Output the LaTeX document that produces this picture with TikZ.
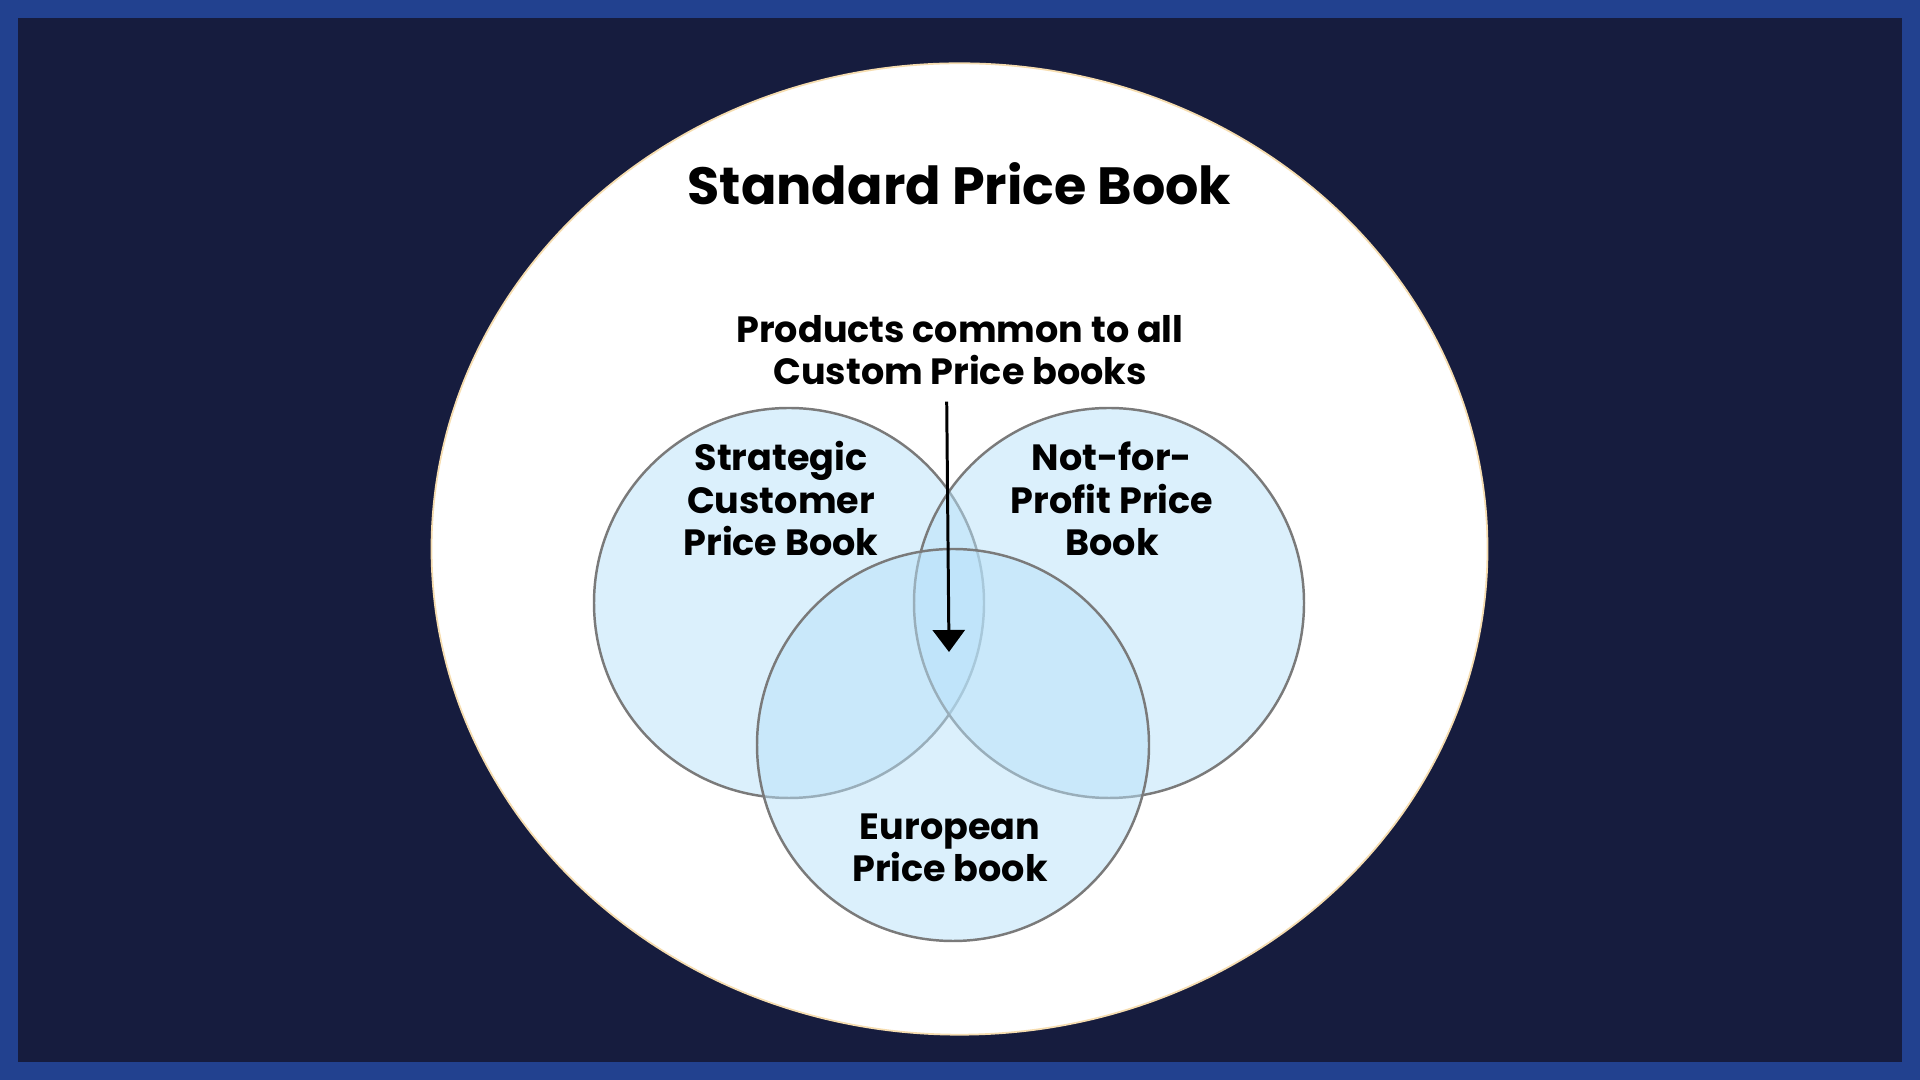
\documentclass[tikz,border=0pt]{standalone}
\usepackage{fontspec}
\setmainfont{Poppins}
\usetikzlibrary{arrows.meta}
\definecolor{frameblue}{HTML}{22418F}
\definecolor{slidebg}{HTML}{161C3E}
\definecolor{bookfill}{HTML}{B8E2FA}
\definecolor{bookline}{HTML}{7A7A7A}
\definecolor{rimgold}{HTML}{F6DDB0}

\begin{document}
\begin{tikzpicture}[
  book/.style={fill=bookfill, fill opacity=0.5, draw=bookline, draw opacity=1, line width=0.7pt},
  booklabel/.style={font=\fontsize{10.4}{12.2}\selectfont\bfseries, align=center, anchor=base},
  ]
  %frame of the slide
  \fill[frameblue] (0,0) rectangle (19.2,10.8);
  \fill[slidebg] (0.18,0.18) rectangle (19.02,10.62);
  \useasboundingbox (0,0) rectangle (19.2,10.8);
  %STANDARD BOOK
  \draw[rimgold, fill=white, line width=0.5pt] (9.595,5.31) ellipse [x radius=5.28, y radius=4.857];
  \node[font=\fontsize{14.9}{18}\selectfont\bfseries, anchor=base] (std) at (9.595,8.75) {Standard Price Book};
  %base = last line
  \node[booklabel] (common) at (9.6,6.95) {Products common to all\\Custom Price books};
  %custom books
  \path[book] (7.89,4.77) circle (1.95);
  \path[book] (11.09,4.77) circle (1.95);
  \path[book] (9.53,3.35) circle (1.96);
  \node[booklabel] (strat) at (7.81,5.24) {Strategic\\Customer\\Price Book};
  \node[booklabel] (nfp) at (11.12,5.24) {Not-for-\\Profit Price\\Book};
  \node[booklabel] (euro) at (9.50,1.98) {European\\Price book};
  %arrow
  \coordinate (top) at (9.467,6.783);
  \coordinate (tip) at (9.49,4.28);
  \draw[line width=0.85pt, -{Triangle[width=0.32cm,length=0.22cm]}] (top) -- (tip);
\end{tikzpicture}
\end{document}
